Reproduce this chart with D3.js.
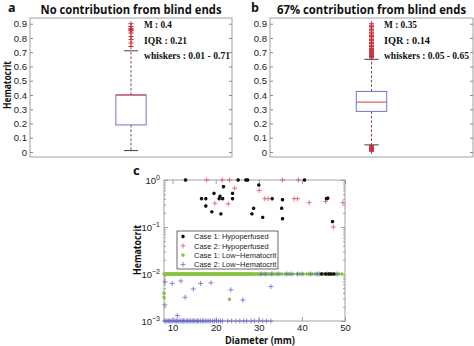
<!DOCTYPE html>
<html><head><meta charset="utf-8">
<script src="https://cdn.jsdelivr.net/npm/d3@7"></script>
<style>body{margin:0;background:#fff}svg{display:block}</style>
</head><body>
<svg id="fig" width="474" height="346"></svg>
<script>
// ---- Box-plot panels (a, b): hematocrit distributions ----
const boxTitles = ["No contribution from blind ends", "67% contribution from blind ends"];
const boxLetters = ["a", "b"];
const medians = [0.40, 0.35];
const q1s = [0.19, 0.285];
const q3s = [0.40, 0.425];
const whiskerLo = [0.01, 0.05];
const whiskerHi = [0.71, 0.65];
const statLabels = [
  ["M : 0.4", "IQR : 0.21", "whiskers : 0.01 - 0.71"],
  ["M : 0.35", "IQR : 0.14", "whiskers : 0.05 - 0.65"]
];
const outliersA = [0.74, 0.765, 0.79, 0.81, 0.835, 0.85, 0.855, 0.86, 0.865, 0.88, 0.90];
const outliersB = [0.66, 0.665, 0.67, 0.675, 0.68, 0.685, 0.69, 0.695, 0.70, 0.705, 0.71, 0.715,
  0.72, 0.725, 0.73, 0.74, 0.745, 0.75, 0.76, 0.765, 0.77, 0.78, 0.785, 0.79, 0.80, 0.81, 0.815,
  0.82, 0.83, 0.84, 0.85, 0.86, 0.87, 0.88, 0.89, 0.90,
  0.005, 0.01, 0.015, 0.02, 0.025, 0.03, 0.035, 0.04, 0.045];
const boxTicks = [0, 0.1, 0.2, 0.3, 0.4, 0.5, 0.6, 0.7, 0.8, 0.9];

// ---- Scatter panel (c): hematocrit vs vessel diameter ----
const seriesNames = ["Case 1: Hypoperfused", "Case 2: Hypoperfused", "Case 1: Low\u2212Hematocrit", "Case 2: Low\u2212Hematocrit"];
const hypo1Diam = [13.0, 16.7, 17.7, 17.7, 19.1, 19.6, 21.0, 20.8, 21.6, 21.8, 21.2, 23.9, 23.9, 25.2, 27.0, 27.4,
  30.0, 28.8, 28.4, 30.9, 33.1, 35.5, 35.3, 35.5, 40.6, 45.7, 46.0, 47.1,
  44.6, 45.5, 46.3, 46.8, 47.4];
const hypo1Hct = [1.0, 0.40, 0.40, 0.28, 0.21, 0.52, 0.45, 0.40, 0.40, 0.72, 0.19, 0.52, 0.40, 1.0, 1.0, 1.0,
  0.78, 0.25, 0.19, 0.16, 0.40, 0.38, 0.25, 0.15, 1.0, 0.40, 0.41, 0.13,
  0.01, 0.01, 0.01, 0.01, 0.01];
const hypo2Diam = [17.9, 21.5, 23.2, 24.4, 19.8, 22.9, 30.1, 31.4, 32.2, 35.5, 38.2, 39.0, 39.2, 41.7, 45.5, 47.3, 49.5];
const hypo2Hct = [1.0, 1.0, 1.0, 0.67, 0.32, 0.31, 0.60, 0.40, 0.40, 1.0, 0.40, 0.40, 1.0, 0.33, 0.35, 0.10, 0.33];
const low1Diam = [8.0, 8.2, 8.4, 8.6, 8.8, 9.0, 9.2, 9.4, 9.6, 9.8, 10.0, 10.2, 10.4, 10.6, 10.8, 11.0, 11.2, 11.4,
  11.6, 11.8, 12.0, 12.2, 12.4, 12.6, 12.8, 13.0, 13.2, 13.4, 13.6, 13.8, 14.0, 14.2, 14.4, 14.6, 14.8, 15.0,
  15.2, 15.4, 15.6, 15.8, 16.0, 16.2, 16.4, 16.6, 16.8, 17.0, 17.2, 17.4, 17.6, 17.8, 18.0, 18.2, 18.4, 18.6,
  18.8, 19.0, 19.2, 19.4, 19.6, 19.8, 20.0, 20.2, 20.4, 20.6, 20.8, 21.0, 21.2, 21.4, 21.6, 21.8, 22.0, 22.2,
  22.4, 22.6, 22.8, 23.0, 23.2, 23.4, 23.6, 23.8, 24.0, 24.2, 24.4, 24.6, 24.8, 25.0, 25.2, 25.4, 25.6, 25.8,
  26.0, 26.2, 26.4, 26.6, 26.8, 27.0, 27.2, 27.4, 27.6, 27.8, 28.0, 28.2, 28.4, 28.7, 29.0, 29.3, 29.6, 29.9,
  30.2, 30.6, 31.0, 31.3, 31.7, 32.0, 32.4, 32.9, 33.3, 33.8, 34.2, 34.9, 35.4, 36.1, 36.8, 37.2, 38.0, 38.9,
  39.5, 40.3, 41.1, 41.6, 42.4, 43.0, 43.5, 44.2, 45.0, 45.9, 47.9, 48.6, 49.3,
  8.0, 8.0, 23.2];
const low1Hct = [0.01, 0.01, 0.01, 0.01, 0.01, 0.01, 0.01, 0.01, 0.01, 0.01, 0.01, 0.01, 0.01, 0.01, 0.01, 0.01, 0.01, 0.01,
  0.01, 0.01, 0.01, 0.01, 0.01, 0.01, 0.01, 0.01, 0.01, 0.01, 0.01, 0.01, 0.01, 0.01, 0.01, 0.01, 0.01, 0.01,
  0.01, 0.01, 0.01, 0.01, 0.01, 0.01, 0.01, 0.01, 0.01, 0.01, 0.01, 0.01, 0.01, 0.01, 0.01, 0.01, 0.01, 0.01,
  0.01, 0.01, 0.01, 0.01, 0.01, 0.01, 0.01, 0.01, 0.01, 0.01, 0.01, 0.01, 0.01, 0.01, 0.01, 0.01, 0.01, 0.01,
  0.01, 0.01, 0.01, 0.01, 0.01, 0.01, 0.01, 0.01, 0.01, 0.01, 0.01, 0.01, 0.01, 0.01, 0.01, 0.01, 0.01, 0.01,
  0.01, 0.01, 0.01, 0.01, 0.01, 0.01, 0.01, 0.01, 0.01, 0.01, 0.01, 0.01, 0.01, 0.01, 0.01, 0.01, 0.01, 0.01,
  0.01, 0.01, 0.01, 0.01, 0.01, 0.01, 0.01, 0.01, 0.01, 0.01, 0.01, 0.01, 0.01, 0.01, 0.01, 0.01, 0.01, 0.01,
  0.01, 0.01, 0.01, 0.01, 0.01, 0.01, 0.01, 0.01, 0.01, 0.01, 0.01, 0.01, 0.01,
  0.0039, 0.0032, 0.0029];
const low2Diam = [8.1, 8.4, 8.7, 9.0, 9.3, 9.6, 9.9, 10.3, 10.6, 10.9, 11.2, 11.5, 11.9, 12.2, 12.5, 12.8, 13.2,
  13.5, 13.8, 14.1, 14.5, 14.8, 15.1, 15.5, 15.8, 16.1, 16.5, 16.9, 17.2, 17.6, 18.0, 18.4, 18.8, 19.3, 19.7,
  20.2, 20.6, 21.1, 21.6, 22.8, 23.7, 24.7, 25.6, 26.5, 27.2, 28.2, 29.0, 30.0, 30.9, 31.8, 32.8,
  8.2, 9.9, 11.9, 14.8, 16.5, 18.9, 23.5, 26.3, 32.8, 12.9, 11.1, 8.2,
  30.5, 31.5, 33.0, 34.5, 36.5, 37.5, 39.0, 40.0, 42.0, 43.5, 44.0, 46.0, 48.2];
const low2Hct = [0.001, 0.001, 0.001, 0.001, 0.001, 0.001, 0.001, 0.001, 0.001, 0.001, 0.001, 0.001, 0.001, 0.001,
  0.001, 0.001, 0.001, 0.001, 0.001, 0.001, 0.001, 0.001, 0.001, 0.001, 0.001, 0.001, 0.001, 0.001, 0.001, 0.001,
  0.001, 0.001, 0.001, 0.001, 0.001, 0.001, 0.001, 0.001, 0.001, 0.001, 0.001, 0.001, 0.001, 0.001, 0.001, 0.001,
  0.001, 0.001, 0.001, 0.001, 0.001,
  0.0068, 0.0063, 0.0071, 0.0048, 0.0063, 0.0065, 0.0046, 0.0028, 0.0054, 0.0032, 0.0013, 0.0022,
  0.01, 0.01, 0.01, 0.01, 0.01, 0.01, 0.01, 0.01, 0.01, 0.01, 0.01, 0.01, 0.01];
const diamTicks = [10, 20, 30, 40, 50];
const hctDecades = [0.001, 0.01, 0.1, 1];

const svg = d3.select("#fig");
svg.append("rect").attr("width", 474).attr("height", 346).attr("fill", "#fff");

const tickFont = "'Liberation Sans', Arial, sans-serif";
const frameColor = "#8a8a8a";
const whiskerColor = "#7a4452";
const boxColor = "#7474cc";
const medianColor = "#d83a3a";
const outlierColor = "#cc2b36";
const plusPath = "M-2.5,0H2.5M0,-2.5V2.5";
const starPath = "M-1.7,0H1.7M0,-1.7V1.7M-1.2,-1.2L1.2,1.2M-1.2,1.2L1.2,-1.2";

function boxPanel(i, x0, x1, outliers) {
  const y = d3.scaleLinear().domain([-0.035, 0.94]).range([157, 18]);
  const x = d3.scaleLinear().domain([0.5, 1.5]).range([x0, x1]);
  const g = svg.append("g");

  const left = g.append("g").attr("transform", `translate(${x0},0)`)
    .call(d3.axisLeft(y).tickValues(boxTicks).tickSize(-3).tickPadding(3)
      .tickFormat(d => d === 0 ? "0" : d3.format(".1f")(d)));
  const right = g.append("g").attr("transform", `translate(${x1},0)`)
    .call(d3.axisRight(y).tickValues(boxTicks).tickSize(-3).tickFormat(""));
  [left, right].forEach(a => {
    a.select(".domain").remove();
    a.selectAll(".tick line").attr("stroke", frameColor);
    a.selectAll("text").attr("font-family", tickFont).attr("font-size", 9.5).attr("fill", "#222");
  });
  g.append("rect").attr("x", x0).attr("y", 18).attr("width", x1 - x0).attr("height", 139)
    .attr("fill", "none").attr("stroke", frameColor).attr("stroke-width", 0.8);

  // whiskers
  g.append("line").attr("x1", x(1)).attr("x2", x(1)).attr("y1", y(q3s[i])).attr("y2", y(whiskerHi[i]))
    .attr("stroke", whiskerColor).attr("stroke-dasharray", "2.5,2").attr("stroke-width", 1);
  g.append("line").attr("x1", x(1)).attr("x2", x(1)).attr("y1", y(q1s[i])).attr("y2", y(whiskerLo[i]))
    .attr("stroke", whiskerColor).attr("stroke-dasharray", "2.5,2").attr("stroke-width", 1);
  [whiskerLo[i], whiskerHi[i]].forEach(v => {
    g.append("line").attr("x1", x(1 - 0.035)).attr("x2", x(1 + 0.035)).attr("y1", y(v)).attr("y2", y(v))
      .attr("stroke", "#4a3a48").attr("stroke-width", 1);
  });
  // box and median
  g.append("rect").attr("x", x(1 - 0.075)).attr("width", x(1.075) - x(0.925))
    .attr("y", y(q3s[i])).attr("height", y(q1s[i]) - y(q3s[i]))
    .attr("fill", "none").attr("stroke", boxColor).attr("stroke-width", 1);
  g.append("line").attr("x1", x(0.925)).attr("x2", x(1.075)).attr("y1", y(medians[i])).attr("y2", y(medians[i]))
    .attr("stroke", medianColor).attr("stroke-width", 1);
  // outliers
  g.selectAll(".out").data(outliers).join("path")
    .attr("transform", d => `translate(${x(1)},${y(d)})`).attr("d", plusPath)
    .attr("fill", "none").attr("stroke", outlierColor).attr("stroke-width", 1);

  // statistics text
  const tx = i === 0 ? 144 : 384;
  const lens = i === 0 ? [28, 43, 86] : [33, 46, 85];
  statLabels[i].forEach((s, k) => {
    g.append("text").attr("x", tx).attr("y", 28 + k * 15.5).text(s)
      .attr("font-family", "'Liberation Serif', 'Times New Roman', serif").attr("font-weight", "bold")
      .attr("font-size", 10).attr("fill", "#111")
      .attr("textLength", lens[k]).attr("lengthAdjust", "spacingAndGlyphs");
  });
  // title, letter, y label
  g.append("text").attr("x", (x0 + x1) / 2).attr("y", 14).attr("text-anchor", "middle").text(boxTitles[i])
    .attr("font-family", "'Open Sans', sans-serif").attr("font-weight", "bold").attr("font-size", 11.5)
    .attr("fill", "#111").attr("textLength", i === 0 ? 181 : 189).attr("lengthAdjust", "spacingAndGlyphs");
  g.append("text").attr("x", i === 0 ? 8 : 251).attr("y", 12).text(boxLetters[i])
    .attr("font-family", "'Open Sans', sans-serif").attr("font-weight", "bold").attr("font-size", 12.5).attr("fill", "#111");
  if (i === 0) {
    g.append("text").attr("transform", "translate(10.5,85) rotate(-90)").attr("text-anchor", "middle")
      .text("Hematocrit").attr("font-family", "'Open Sans', sans-serif").attr("font-weight", "bold")
      .attr("font-size", 11).attr("fill", "#111").attr("textLength", 48).attr("lengthAdjust", "spacingAndGlyphs");
  }
}
boxPanel(0, 30, 232, outliersA);
boxPanel(1, 270, 473, outliersB);

// ---- panel c ----
const xc = d3.scaleLinear().domain([8, 50]).range([164, 345]);
const yc = d3.scaleLog().domain([1e-3, 1]).range([321, 180]);
const gc = svg.append("g");
const minorVals = yc.ticks().filter(v => !hctDecades.some(d => Math.abs(d - v) < 1e-12));

function styleAxis(a) {
  a.select(".domain").remove();
  a.selectAll(".tick line").attr("stroke", frameColor).attr("stroke-width", 0.8);
  return a;
}
styleAxis(gc.append("g").attr("transform", "translate(164,0)")
  .call(d3.axisLeft(yc).tickValues(hctDecades).tickSize(-4).tickFormat("")));
styleAxis(gc.append("g").attr("transform", "translate(164,0)")
  .call(d3.axisLeft(yc).tickValues(minorVals).tickSize(-2).tickFormat("")));
styleAxis(gc.append("g").attr("transform", "translate(345,0)")
  .call(d3.axisRight(yc).tickValues(hctDecades).tickSize(-4).tickFormat("")));
styleAxis(gc.append("g").attr("transform", "translate(345,0)")
  .call(d3.axisRight(yc).tickValues(minorVals).tickSize(-2).tickFormat("")));
const xb = styleAxis(gc.append("g").attr("transform", "translate(0,321)")
  .call(d3.axisBottom(xc).tickValues(diamTicks).tickSize(-4).tickPadding(3)));
xb.selectAll("text").attr("font-family", tickFont).attr("font-size", 9.5).attr("fill", "#222").attr("dy", "0.7em");
styleAxis(gc.append("g").attr("transform", "translate(0,180)")
  .call(d3.axisTop(xc).tickValues(diamTicks).tickSize(-4).tickFormat("")));
gc.append("rect").attr("x", 164).attr("y", 180).attr("width", 181).attr("height", 141)
  .attr("fill", "none").attr("stroke", frameColor).attr("stroke-width", 0.8);

// y tick labels as powers of ten
hctDecades.forEach(v => {
  const t = gc.append("text").attr("x", 160).attr("y", yc(v) + 4).attr("text-anchor", "end")
    .attr("font-family", tickFont).attr("font-size", 9.5).attr("fill", "#222");
  t.append("tspan").text("10");
  t.append("tspan").attr("dy", -4.5).attr("font-size", 7).text(String(Math.round(Math.log10(v))).replace("-", "\u2212"));
});

const colors = ["#111", "#d05a5a", "#86c440", "#6a6ac4"];
const shapes = [starPath, plusPath, starPath, plusPath];
const widths = [1.3, 0.8, 1.2, 0.8];
const series = [
  d3.zip(hypo1Diam, hypo1Hct),
  d3.zip(hypo2Diam, hypo2Hct),
  d3.zip(low1Diam, low1Hct),
  d3.zip(low2Diam, low2Hct)
];
[2, 3, 1, 0].forEach(s => {
  gc.append("g").selectAll("path").data(series[s]).join("path")
    .attr("transform", d => `translate(${xc(d[0])},${yc(d[1])})`)
    .attr("d", shapes[s]).attr("fill", "none").attr("stroke", colors[s]).attr("stroke-width", widths[s]);
});

// legend
const lg = gc.append("g");
lg.append("rect").attr("x", 177).attr("y", 231).attr("width", 101).attr("height", 38)
  .attr("fill", "#fff").attr("stroke", "#444").attr("stroke-width", 0.8);
seriesNames.forEach((n, k) => {
  const cy = 236.5 + k * 9.3;
  lg.append("path").attr("transform", `translate(183,${cy})`).attr("d", shapes[k])
    .attr("fill", "none").attr("stroke", colors[k]).attr("stroke-width", widths[k]);
  lg.append("text").attr("x", 194).attr("y", cy + 2.7).text(n)
    .attr("font-family", tickFont).attr("font-size", 7.5).attr("fill", "#222");
});

gc.append("text").attr("x", 133).attr("y", 175).text("c")
  .attr("font-family", "'Open Sans', sans-serif").attr("font-weight", "bold").attr("font-size", 13).attr("fill", "#111");
gc.append("text").attr("transform", "translate(141,250) rotate(-90)").attr("text-anchor", "middle")
  .text("Hematocrit").attr("font-family", "'Open Sans', sans-serif").attr("font-weight", "bold")
  .attr("font-size", 11).attr("fill", "#111").attr("textLength", 50).attr("lengthAdjust", "spacingAndGlyphs");
gc.append("text").attr("x", 260).attr("y", 344).attr("text-anchor", "middle").text("Diameter (mm)")
  .attr("font-family", "'Open Sans', sans-serif").attr("font-weight", "bold").attr("font-size", 11).attr("fill", "#111")
  .attr("textLength", 70).attr("lengthAdjust", "spacingAndGlyphs");
</script>
</body></html>
